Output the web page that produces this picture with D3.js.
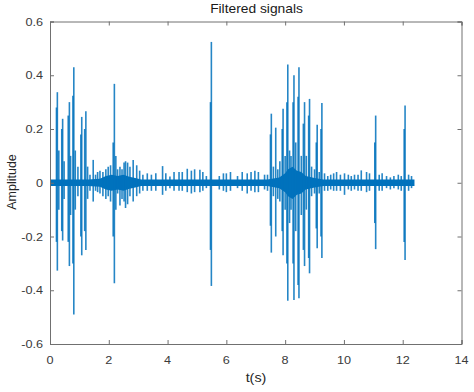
<!DOCTYPE html>
<html>
<head>
<meta charset="utf-8">
<script src="https://cdn.jsdelivr.net/npm/d3@7"></script>
<style>
  html, body { margin: 0; padding: 0; background: #fff; }
  svg { display: block; font-family: "Liberation Sans", Arial, sans-serif; }
</style>
</head>
<body>
<div id="chart"></div>
<script>
// spikes: time (s), positive peak, negative peak
const spikeT = [0.22, 0.25, 0.30, 0.40, 0.43, 0.48, 0.62, 0.66, 0.70, 0.78, 0.81, 0.86, 0.95,
  1.05, 1.08, 1.18, 1.22, 1.28, 1.36, 1.47, 1.55, 1.62, 1.70, 1.80, 1.90, 1.98, 2.06, 2.15, 2.19,
  2.24, 2.30, 2.38, 2.45, 2.52, 2.57, 2.64, 2.72, 2.83, 2.95, 3.05, 3.16, 3.31, 3.45, 3.60, 3.83,
  3.94, 4.08, 4.22, 4.39, 4.50, 4.67, 4.81, 4.92, 5.10, 5.20, 5.32, 5.46, 5.49, 5.76, 5.90, 6.00,
  6.14, 6.38, 6.54, 6.71, 6.84, 6.97, 7.09, 7.30, 7.40, 7.50, 7.53, 7.60, 7.68, 7.75, 7.82, 7.90,
  7.93, 8.00, 8.06, 8.09, 8.15, 8.20, 8.27, 8.30, 8.36, 8.44, 8.47, 8.55, 8.62, 8.66, 8.72, 8.80,
  8.83, 8.90, 9.00, 9.06, 9.09, 9.16, 9.22, 9.25, 9.34, 9.45, 9.55, 9.65, 9.75, 9.88, 10.02, 10.15,
  10.25, 10.36, 10.48, 10.59, 10.77, 10.87, 11.05, 11.08, 11.20, 11.30, 11.45, 11.58, 11.70, 11.85,
  11.95, 12.05, 12.08, 12.20, 12.30];
const spikeHi = [0.28, 0.337, 0.12, 0.20, 0.238, 0.08, 0.25, 0.30, 0.10, 0.324, 0.43, 0.12, 0.06,
  0.18, 0.245, 0.20, 0.266, 0.06, 0.03, 0.085, 0.03, 0.04, 0.045, 0.04, 0.05, 0.06, 0.065, 0.15, 0.368,
  0.10, 0.05, 0.06, 0.05, 0.075, 0.08, 0.075, 0.06, 0.085, 0.065, 0.045, 0.03, 0.035, 0.03, 0.035, 0.062,
  0.035, 0.023, 0.04, 0.04, 0.04, 0.052, 0.045, 0.05, 0.048, 0.04, 0.025, 0.30, 0.524, 0.025, 0.035, 0.035,
  0.04, 0.025, 0.04, 0.035, 0.04, 0.045, 0.04, 0.03, 0.03, 0.18, 0.257, 0.06, 0.205, 0.05, 0.08, 0.20,
  0.275, 0.10, 0.30, 0.44, 0.12, 0.10, 0.30, 0.40, 0.15, 0.32, 0.43, 0.10, 0.22, 0.30, 0.10, 0.25,
  0.312, 0.06, 0.05, 0.15, 0.216, 0.04, 0.20, 0.297, 0.035, 0.025, 0.03, 0.035, 0.04, 0.03, 0.035, 0.03,
  0.025, 0.03, 0.03, 0.046, 0.04, 0.035, 0.15, 0.25, 0.03, 0.035, 0.025, 0.02, 0.025, 0.03,
  0.025, 0.20, 0.287, 0.03, 0.025];
const spikeLo = [-0.22, -0.327, -0.10, -0.18, -0.215, -0.06, -0.22, -0.31, -0.12, -0.30, -0.49, -0.10, -0.05,
  -0.20, -0.27, -0.18, -0.25, -0.06, -0.03, -0.07, -0.03, -0.035, -0.04, -0.05, -0.06, -0.05, -0.07, -0.20, -0.374,
  -0.10, -0.04, -0.085, -0.06, -0.07, -0.094, -0.08, -0.05, -0.07, -0.05, -0.04, -0.03, -0.03, -0.03, -0.03, -0.045,
  -0.03, -0.02, -0.03, -0.03, -0.03, -0.035, -0.04, -0.035, -0.035, -0.03, -0.02, -0.25, -0.384, -0.025, -0.03, -0.035,
  -0.03, -0.02, -0.03, -0.04, -0.03, -0.035, -0.035, -0.025, -0.03, -0.16, -0.26, -0.05, -0.20, -0.06, -0.07, -0.18,
  -0.27, -0.10, -0.30, -0.439, -0.15, -0.10, -0.30, -0.436, -0.18, -0.38, -0.43, -0.12, -0.25, -0.31, -0.10, -0.28,
  -0.337, -0.05, -0.04, -0.17, -0.244, -0.04, -0.20, -0.28, -0.03, -0.03, -0.025, -0.03, -0.03, -0.03, -0.045, -0.025,
  -0.03, -0.025, -0.03, -0.03, -0.035, -0.03, -0.15, -0.247, -0.03, -0.03, -0.02, -0.025, -0.02, -0.025,
  -0.03, -0.22, -0.287, -0.03, -0.02];

// half width of the dense noise band around zero
const bandT = [0, 1.3, 1.7, 1.9, 2.1, 2.3, 2.5, 2.7, 2.9, 3.1, 7.4, 7.8, 8.0, 8.1, 8.25, 8.4, 8.55, 8.7, 9.0, 9.3, 12.4];
const bandW = [0.012, 0.012, 0.015, 0.025, 0.03, 0.025, 0.03, 0.022, 0.018, 0.012, 0.012, 0.02, 0.035, 0.05, 0.06, 0.045, 0.04, 0.025, 0.018, 0.012, 0.012];

const xTicks = [0, 2, 4, 6, 8, 10, 12, 14];
const xTickLabels = ['0', '2', '4', '6', '8', '10', '12', '14'];
const yTicks = [-0.6, -0.4, -0.2, 0, 0.2, 0.4, 0.6];
const yTickLabels = ['-0.6', '-0.4', '-0.2', '0', '0.2', '0.4', '0.6'];

const W = 474, H = 392;
const pLeft = 50, pRight = 461.5, pTop = 21.5, pBottom = 344;
const stretch = 1.15; // the picture is a bit wider than tall, text too
const blue = '#0072BD';

const x = d3.scaleLinear().domain([0, 14]).range([pLeft, pRight]);
const y = d3.scaleLinear().domain([-0.6, 0.6]).range([pBottom, pTop]);

const svg = d3.select('#chart').append('svg').attr('width', W).attr('height', H);

// signal: noise band + spikes
const band = d3.area()
    .x((d, i) => x(bandT[i]))
    .y0((d) => y(-d))
    .y1((d) => y(d));
svg.append('path').attr('d', band(bandW)).attr('fill', blue);

svg.append('g').selectAll('line').data(spikeT).join('line')
    .attr('x1', (d) => x(d)).attr('x2', (d) => x(d))
    .attr('y1', (d, i) => y(spikeHi[i]))
    .attr('y2', (d, i) => y(spikeLo[i]))
    .attr('stroke', blue)
    .attr('stroke-width', 1.6)
    .attr('opacity', 0.85);

// axes box with inward ticks on all sides
const axisCol = '#707070';
const ax = [
  d3.axisBottom(x).tickValues(xTicks).tickSize(-4).tickFormat(''),
  d3.axisTop(x).tickValues(xTicks).tickSize(-4).tickFormat(''),
  d3.axisLeft(y).tickValues(yTicks).tickSize(-4).tickFormat(''),
  d3.axisRight(y).tickValues(yTicks).tickSize(-4).tickFormat('')
];
const pos = ['translate(0,' + pBottom + ')', 'translate(0,' + pTop + ')', 'translate(' + pLeft + ',0)', 'translate(' + pRight + ',0)'];
ax.forEach((a, i) => {
  const g = svg.append('g').attr('transform', pos[i]).call(a);
  g.select('.domain').attr('stroke', axisCol);
  g.selectAll('.tick line').attr('stroke', axisCol);
});

// tick labels
svg.append('g').selectAll('text').data(xTicks).join('text')
    .attr('transform', (d) => 'translate(' + x(d) + ',363.5) scale(' + stretch + ',1)')
    .attr('text-anchor', 'middle')
    .attr('font-size', 11)
    .attr('fill', '#3a3a3a')
    .text((d, i) => xTickLabels[i]);

svg.append('g').selectAll('text').data(yTicks).join('text')
    .attr('transform', (d) => 'translate(43,' + (y(d) + 4) + ') scale(' + stretch + ',1)')
    .attr('text-anchor', 'end')
    .attr('font-size', 11)
    .attr('fill', '#3a3a3a')
    .text((d, i) => yTickLabels[i]);

// title and axis labels
svg.append('text')
    .attr('transform', 'translate(256.5,13) scale(' + stretch + ',1)')
    .attr('text-anchor', 'middle')
    .attr('font-size', 12)
    .attr('fill', '#1a1a1a')
    .text('Filtered signals');

svg.append('text')
    .attr('transform', 'translate(256,381.5) scale(' + stretch + ',1)')
    .attr('text-anchor', 'middle')
    .attr('font-size', 12.5)
    .attr('fill', '#262626')
    .text('t(s)');

svg.append('text')
    .attr('transform', 'translate(16,182) rotate(-90)')
    .attr('text-anchor', 'middle')
    .attr('font-size', 12.5)
    .attr('fill', '#262626')
    .text('Amplitude');
</script>
</body>
</html>
